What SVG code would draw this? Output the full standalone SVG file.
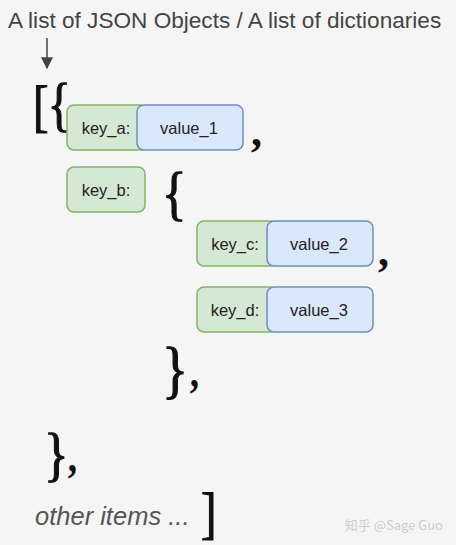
<svg xmlns="http://www.w3.org/2000/svg" width="456" height="545" viewBox="0 0 456 545">
<defs>
<style>
.k{fill:#d5e8d4;stroke:#82b366;stroke-width:1.5}
.v{fill:#dae8fc;stroke:#6c8ebf;stroke-width:1.5}
.t{font-family:"Liberation Sans",Arial,sans-serif;font-size:16.5px;fill:#222;text-anchor:middle}
.b{font-family:"Liberation Serif","DejaVu Serif",serif;fill:#111;stroke:#111;stroke-width:1.2}
.c{font-family:"Liberation Serif","DejaVu Serif",serif;fill:#111;stroke:none;font-weight:bold;font-size:44px}
</style>
<marker id="ah" markerWidth="12" markerHeight="12" refX="9" refY="5" orient="auto" markerUnits="userSpaceOnUse" viewBox="0 0 10 10">
<path d="M0,0 L10,5 L0,10 Z" fill="#444"/>
</marker>
</defs>
<rect width="456" height="545" fill="#f5f5f5"/>
<text x="8" y="28" font-family="Liberation Sans,Arial,sans-serif" font-size="22.6" fill="#444">A list of JSON Objects / A list of dictionaries</text>
<g id="connectors">
<line x1="47" y1="38" x2="47" y2="68" stroke="#444" stroke-width="1.5" marker-end="url(#ah)"/>
</g>
<text class="b" transform="translate(33,125) scale(0.8,1)" font-size="58">[<tspan dx="-1" font-size="60" dy="-1">{</tspan></text>
<g id="key_a"><rect class="k" x="67" y="105" width="80" height="45" rx="7"/><text class="t" x="106" y="134">key_a:</text></g>
<g id="value_1"><rect class="v" x="137" y="105" width="106" height="45" rx="7"/><text class="t" x="189" y="134">value_1</text></g>
<text class="c" x="251" y="146">,</text>
<g id="key_b"><rect class="k" x="67" y="167" width="78" height="45" rx="7"/><text class="t" x="106" y="196">key_b:</text></g>
<text class="b" transform="translate(162,213) scale(0.85,1)" font-size="60">{</text>
<g id="key_c"><rect class="k" x="197" y="221" width="80" height="45" rx="7"/><text class="t" x="235" y="250">key_c:</text></g>
<g id="value_2"><rect class="v" x="267" y="221" width="106" height="45" rx="7"/><text class="t" x="319" y="250">value_2</text></g>
<text class="c" x="378" y="266">,</text>
<g id="key_d"><rect class="k" x="197" y="287" width="80" height="45" rx="7"/><text class="t" x="235" y="316">key_d:</text></g>
<g id="value_3"><rect class="v" x="267" y="287" width="106" height="45" rx="7"/><text class="t" x="319" y="316">value_3</text></g>
<text class="b" transform="translate(162,391) scale(0.85,1)" font-size="64">}<tspan class="c" font-size="58" dx="2" dy="-4">,</tspan></text>
<text class="b" transform="translate(44,474) scale(0.85,1)" font-size="60">}<tspan class="c" font-size="50" dx="-1" dy="-2">,</tspan></text>
<text x="35" y="525" font-family="Liberation Sans,Arial,sans-serif" font-size="25.5" font-style="italic" fill="#555">other items ...</text>
<text class="b" transform="translate(201,532) scale(0.8,1)" font-size="58">]</text>
<text x="443" y="530" font-family="'Noto Sans CJK SC',sans-serif" font-size="13" fill="#ccc" text-anchor="end">知乎 @Sage Guo</text>
</svg>
